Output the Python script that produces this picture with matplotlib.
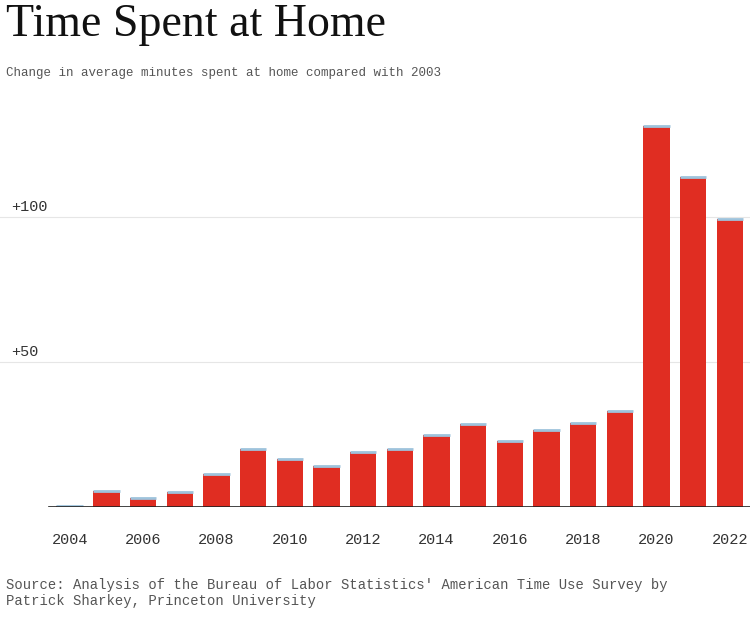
import matplotlib
matplotlib.use("Agg")
import matplotlib.pyplot as plt

years = list(range(2004, 2023))
values = [0.3, 5.3, 3.0, 5.0, 11.3, 19.8, 16.6, 14.0, 19.0, 19.8, 24.7, 28.6, 22.6, 26.5, 29.0, 32.9, 131.4, 113.8, 99.3]
xticks = list(range(2004, 2023, 2))
yticks = [50, 100]
ytick_labels = ["+50", "+100"]

fig = plt.figure(figsize=(7.5, 6.31), dpi=100)
ax = fig.add_axes([0.0, 0.197, 1.0, 0.68])
ax.set_xlim(2002.1, 2022.55)
ax.set_ylim(0, 148)

ax.bar(years, values, width=0.72, color="#e02d22", zorder=2)
ax.hlines(values, [y - 0.36 for y in years], [y + 0.36 for y in years],
          color="#9ec3dc", lw=2, zorder=3)
for t in yticks:
    ax.axhline(t, color="#e6e6e6", lw=0.8, zorder=1, xmin=0.0)
ax.axhline(0, color="#222222", lw=1.2, zorder=4, xmin=0.065)

mono = "Liberation Mono"
for t, l in zip(yticks, ytick_labels):
    ax.text(2002.4, t + 1, l, fontsize=11, family=mono, color="#333333", va="bottom")
for x in xticks:
    ax.text(x, -9, str(x), fontsize=11, family=mono, color="#333333", ha="center", va="top")

ax.set_xticks([]); ax.set_yticks([])
for s in ax.spines.values():
    s.set_visible(False)

fig.text(0.008, 0.995, "Time Spent at Home", fontsize=33, family="Liberation Serif",
         va="top", color="#111111")
fig.text(0.008, 0.885, "Change in average minutes spent at home compared with 2003",
         fontsize=9, family=mono, color="#555555", va="center")
fig.text(0.008, 0.06, "Source: Analysis of the Bureau of Labor Statistics' American Time Use Survey by\nPatrick Sharkey, Princeton University",
         fontsize=10, family=mono, color="#555555", va="center", linespacing=1.2)

fig.savefig("out.png", dpi=100, facecolor="white")
